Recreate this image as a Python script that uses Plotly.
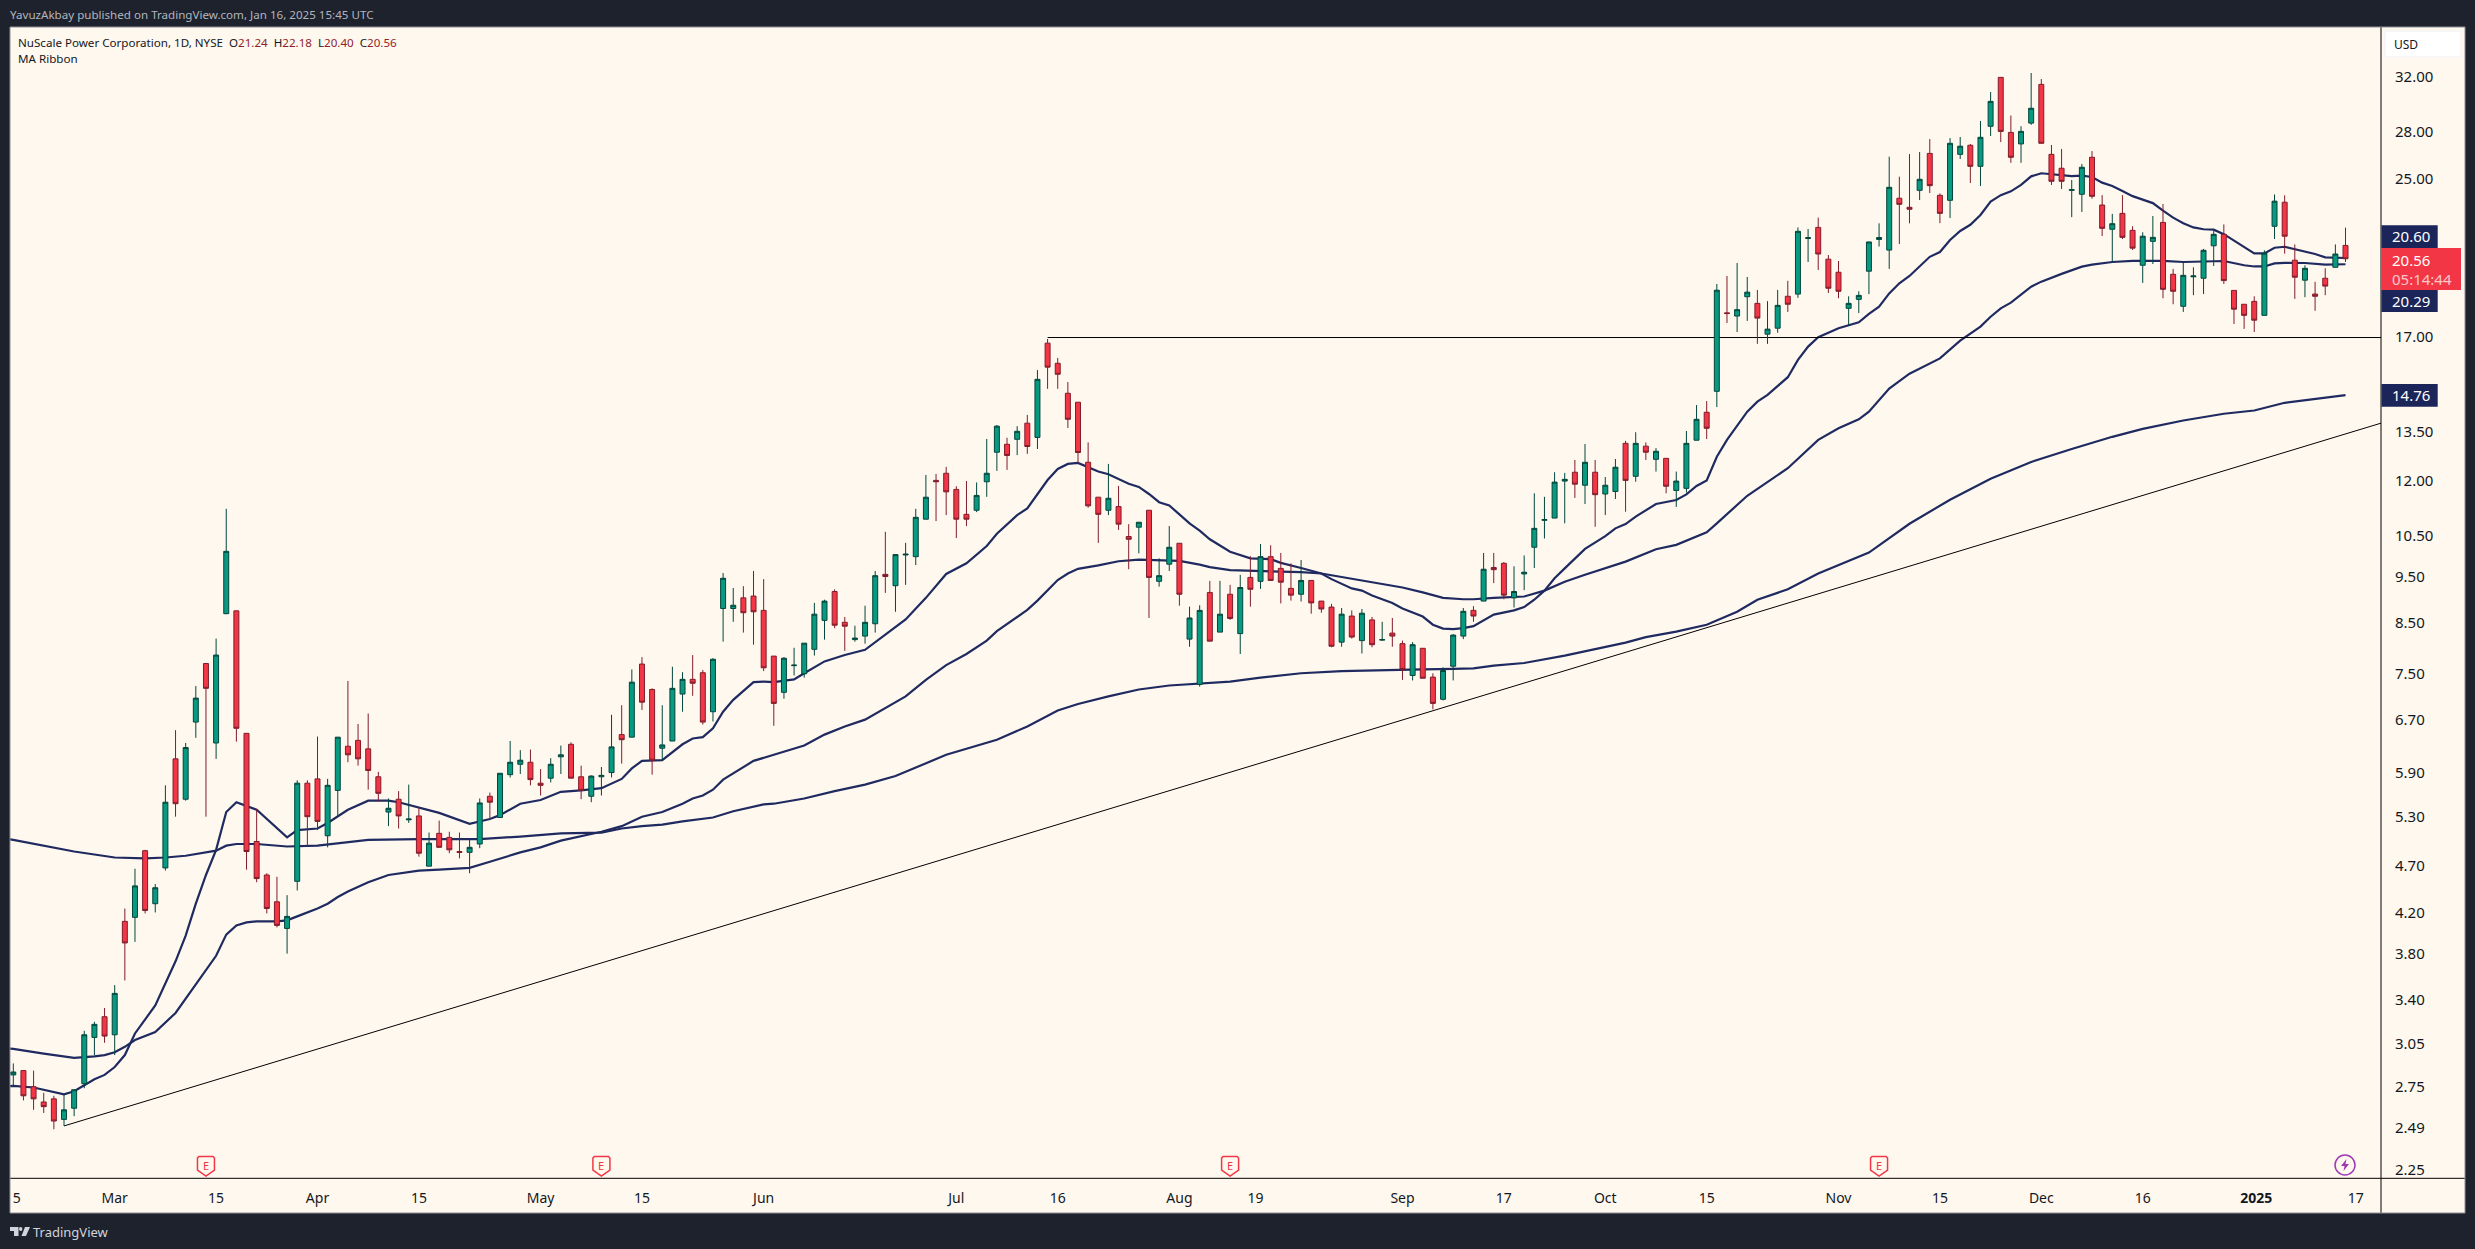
import plotly.graph_objects as go

# ---------- data ----------
opens = [2.83,2.86,2.75,2.65,2.67,2.54,2.61,2.77,3.10,3.26,
 3.12,4.11,4.15,4.88,4.29,4.68,6.10,5.53,6.67,7.69,
 6.34,8.68,8.74,6.49,4.99,4.60,4.31,4.04,4.53,5.75,
 5.81,5.06,5.65,6.29,6.38,6.25,5.84,5.36,5.53,5.26,
 5.31,4.70,5.09,5.04,4.87,4.86,4.96,5.57,5.29,5.87,
 6.02,6.05,5.75,5.82,6.13,6.32,5.84,5.57,5.84,5.90,
 6.47,6.43,7.68,7.22,6.26,6.37,7.14,7.40,7.52,6.84,
 8.79,8.79,9.02,9.06,8.75,7.83,7.17,7.65,7.50,7.96,
 8.54,9.16,8.50,8.15,8.22,8.47,9.55,9.29,10.01,9.97,
 10.92,12.00,12.21,11.74,11.05,11.16,11.96,12.85,13.10,13.26,
 13.79,13.32,16.75,15.95,14.83,14.51,12.54,11.52,11.16,11.26,
 10.47,10.71,11.16,9.39,9.79,10.30,8.16,7.31,9.14,8.30,
 9.10,8.27,9.48,9.39,9.97,9.69,9.23,9.10,9.41,8.95,
 8.82,8.10,8.63,8.13,8.55,8.14,8.28,8.07,7.47,7.98,
 7.44,7.05,7.64,8.22,8.75,8.95,9.71,9.81,9.02,9.56,
 10.20,10.89,10.95,11.98,12.24,11.86,12.24,11.61,11.68,13.13,
 12.12,13.04,12.63,12.66,11.71,11.77,13.23,14.16,14.90,18.03,
 17.89,18.75,18.45,17.12,17.37,18.77,18.87,21.60,22.19,20.54,
 19.90,18.23,18.63,19.95,21.55,21.00,23.82,23.30,24.28,26.56,
 23.99,23.70,26.50,27.09,25.74,28.37,31.95,27.95,27.18,28.59,
 31.41,26.50,25.62,24.28,24.05,26.31,23.43,22.09,22.96,22.03,
 20.24,21.45,22.46,19.80,18.32,19.68,19.61,21.22,21.82,19.04,
 18.41,18.54,17.92,22.25,23.59,20.49,19.52,18.87,19.61,20.14,
 21.24]
highs = [2.91,2.86,2.86,2.71,2.69,2.70,2.73,3.15,3.22,3.33,
 3.52,4.24,4.67,4.89,4.50,5.72,6.54,6.34,7.28,7.70,
 8.17,11.20,8.74,6.49,5.40,4.62,4.58,4.38,5.79,5.79,
 6.44,5.81,6.43,7.37,6.64,6.81,5.91,5.54,5.64,5.73,
 5.42,5.10,5.25,5.11,5.10,5.03,5.54,5.62,5.89,6.37,
 6.23,6.24,5.95,6.11,6.30,6.35,6.00,5.86,5.98,6.79,
 6.95,7.58,7.81,7.24,6.95,7.63,7.53,7.85,7.57,7.79,
 9.58,9.24,9.28,9.63,9.44,7.83,7.81,7.99,8.08,8.91,
 8.98,9.21,8.61,8.43,8.85,9.63,10.59,10.02,10.31,11.20,
 12.16,12.19,12.40,11.83,11.98,11.94,13.27,13.73,13.31,13.69,
 14.07,15.69,16.92,16.16,15.24,14.51,13.16,11.52,12.49,11.84,
 10.79,10.84,11.16,9.93,10.74,10.30,8.83,8.86,9.40,9.40,
 9.31,9.54,9.98,10.28,10.25,10.06,9.81,9.89,9.41,8.95,
 8.89,8.80,8.75,8.78,8.61,8.51,8.59,8.13,8.10,7.98,
 7.51,7.62,8.26,8.80,8.84,10.06,10.06,9.84,9.74,10.00,
 11.63,11.53,12.24,12.22,12.61,13.11,12.61,12.10,12.64,13.21,
 13.49,13.16,12.98,12.66,12.26,13.53,14.41,14.55,19.34,19.72,
 20.35,19.67,19.06,18.55,19.06,19.49,22.19,22.10,22.72,20.75,
 20.45,18.77,19.00,21.42,22.41,26.35,25.10,26.52,26.65,27.50,
 24.10,27.57,27.64,27.18,28.74,30.83,31.95,29.12,28.37,32.29,
 31.82,27.11,26.85,24.90,25.89,26.71,24.00,22.93,24.00,22.25,
 21.93,22.81,23.49,20.06,20.40,20.14,21.06,22.00,22.35,19.04,
 18.41,18.77,20.99,24.04,23.99,21.29,20.24,19.44,20.09,21.29,
 22.18]
lows = [2.76,2.66,2.60,2.58,2.48,2.50,2.56,2.74,2.97,3.06,
 2.97,3.56,3.91,4.19,4.20,4.65,5.30,5.51,6.42,5.30,
 6.10,8.67,6.36,4.66,4.52,4.19,4.05,3.80,4.43,4.94,
 5.13,4.92,5.31,6.05,6.00,5.66,5.50,5.18,5.15,5.22,
 4.81,4.70,4.92,4.85,4.79,4.62,4.91,5.28,5.29,5.83,
 5.88,5.72,5.58,5.76,5.88,5.82,5.53,5.49,5.58,5.83,
 6.03,6.43,6.87,5.87,6.07,6.37,6.84,7.11,6.63,6.68,
 8.11,8.51,8.29,8.05,7.55,6.61,7.06,7.47,7.43,7.84,
 8.15,8.38,7.93,8.11,8.07,8.29,9.13,8.72,9.31,9.77,
 10.92,10.87,11.03,10.43,10.74,11.11,11.53,12.28,12.31,12.76,
 12.80,12.95,14.99,14.99,13.63,12.51,11.23,10.31,11.03,10.64,
 9.67,10.05,8.59,9.27,9.63,8.85,8.01,7.27,8.12,8.30,
 8.55,7.87,8.83,9.22,9.41,8.90,8.96,8.94,8.68,8.70,
 8.00,8.01,8.17,7.88,8.00,8.13,8.01,7.39,7.38,7.42,
 6.88,7.03,7.38,8.16,8.51,8.95,9.35,8.99,8.81,9.19,
 9.70,10.42,10.95,10.81,11.50,11.33,10.72,11.03,11.47,11.12,
 11.96,12.61,12.26,11.63,11.25,11.65,13.23,13.27,14.34,17.59,
 17.21,17.68,16.72,16.72,17.18,18.07,18.70,20.40,20.01,18.92,
 18.68,17.50,18.02,18.87,21.18,20.06,21.31,22.41,23.72,24.12,
 22.42,22.70,26.20,24.72,24.54,27.71,27.30,25.96,25.96,28.47,
 27.22,24.60,24.36,22.75,23.04,23.79,21.73,20.40,21.57,21.01,
 19.39,20.30,18.68,18.41,18.07,18.82,18.87,20.20,19.34,17.55,
 17.34,17.21,17.92,21.57,20.82,18.65,18.73,18.12,18.82,20.14,
 20.40]
closes = [2.85,2.69,2.67,2.62,2.53,2.60,2.73,3.12,3.20,3.11,
 3.45,3.90,4.48,4.22,4.46,5.49,5.47,6.27,7.07,7.24,
 7.85,10.10,6.57,4.87,4.56,4.24,4.07,4.16,5.75,5.30,
 5.24,5.72,6.43,6.16,6.10,5.93,5.61,5.41,5.31,5.27,
 4.85,4.97,4.92,4.89,4.86,4.92,5.48,5.49,5.89,6.05,
 6.08,5.80,5.72,6.02,6.16,5.82,5.65,5.85,5.86,6.28,
 6.39,7.35,7.00,6.08,6.31,7.24,7.40,7.33,6.67,7.77,
 9.46,8.86,8.70,8.72,7.61,6.98,7.79,7.66,8.08,8.67,
 8.95,8.44,8.42,8.18,8.50,9.52,9.50,10.02,10.03,10.97,
 11.52,11.96,11.67,10.92,10.92,11.57,12.21,13.69,12.75,13.52,
 13.03,15.34,15.80,15.53,13.92,12.84,11.28,11.05,11.49,10.79,
 10.40,10.84,9.48,9.52,10.20,9.10,8.59,8.75,8.12,8.67,
 8.58,9.25,9.21,9.97,9.41,9.37,9.08,9.41,8.91,8.78,
 8.02,8.67,8.20,8.69,8.05,8.15,8.22,7.58,8.05,7.42,
 6.98,7.56,8.24,8.73,8.63,9.67,9.66,9.08,9.16,9.60,
 10.68,10.91,11.95,12.03,11.89,12.54,11.59,11.86,12.39,12.00,
 13.13,12.85,12.88,11.83,11.98,13.13,13.92,13.62,19.05,18.00,
 18.17,18.96,17.80,17.33,18.36,18.41,21.98,21.64,20.80,19.14,
 19.00,18.45,18.81,21.42,21.65,24.46,23.47,23.19,24.94,24.56,
 22.96,27.22,27.03,25.74,27.62,30.14,28.02,26.31,28.02,29.64,
 27.22,24.82,24.82,24.32,25.68,23.93,22.14,22.39,21.66,21.10,
 21.72,21.66,19.09,19.00,19.75,19.72,20.99,21.82,19.50,18.19,
 17.92,17.71,20.84,23.65,21.72,19.66,20.09,18.77,19.24,20.80,
 20.56]
bar_index = list(range(len(closes)))

ma_fast_x = [-1,0,2,5,6,8,9,10,11,12,14,16,17,18,19,20,21,22,24,27,28,30,31,32,33,35,37,38,40,42,45,46,47,48,50,52,54,56,58,60,61,62,64,66,67,68,69,70,71,73,74,75,77,78,80,82,84,86,87,88,90,92,94,96,97,99,100,102,103,104,105,106,107,108,110,111,112,113,114,115,116,117,118,120,122,124,125,127,129,130,132,133,134,136,137,139,140,141,142,143,144,146,148,149,150,151,152,153,154,155,157,158,159,160,162,164,165,166,167,168,169,171,172,173,175,176,177,178,180,182,183,184,185,186,187,189,190,191,192,193,194,195,196,197,198,199,200,201,202,203,204,205,206,207,208,209,210,211,212,213,214,215,216,217,218,219,220,221,222,223,224,225,226,227,228,229,230]
ma_fast_y = [2.75,2.755,2.745,2.70,2.72,2.80,2.83,2.885,2.97,3.13,3.35,3.73,3.97,4.29,4.60,4.89,5.36,5.49,5.39,5.04,5.13,5.15,5.22,5.30,5.39,5.51,5.51,5.49,5.42,5.35,5.21,5.24,5.27,5.32,5.47,5.52,5.63,5.65,5.68,5.81,5.96,6.07,6.08,6.32,6.41,6.43,6.57,6.84,7.04,7.35,7.36,7.35,7.40,7.51,7.73,7.85,7.95,8.25,8.40,8.56,9.02,9.56,9.81,10.23,10.54,11.03,11.21,12.01,12.34,12.49,12.52,12.39,12.26,12.18,11.90,11.81,11.61,11.38,11.29,11.05,10.81,10.62,10.40,10.09,9.93,9.91,9.82,9.70,9.57,9.44,9.23,9.18,9.07,8.91,8.79,8.62,8.45,8.37,8.36,8.38,8.42,8.66,8.75,8.82,8.98,9.18,9.46,9.69,9.91,10.16,10.48,10.68,10.79,10.99,11.33,11.44,11.60,11.84,12.00,12.71,13.24,14.18,14.53,14.77,15.42,16.08,16.61,16.99,17.37,17.62,17.98,18.30,18.90,19.37,19.72,20.66,20.90,21.52,22.00,22.33,22.87,23.62,24.00,24.22,24.60,25.12,25.31,25.25,25.19,25.14,25.17,25.08,24.74,24.54,24.24,23.94,23.74,23.54,23.11,22.72,22.42,22.19,22.09,22.07,21.83,21.50,21.15,20.83,20.83,21.12,21.17,21.04,20.94,20.80,20.63,20.61,20.60]

ma_mid_x = [-1,0,3,6,8,9,10,11,12,14,16,18,20,21,22,23,24,26,27,28,30,31,32,33,35,37,39,40,42,45,47,50,52,54,58,60,62,64,66,67,68,69,70,73,75,77,78,80,82,84,87,88,90,92,94,96,97,100,101,103,104,105,107,109,111,113,115,117,118,120,123,125,127,129,131,133,135,137,139,141,143,144,146,149,151,153,155,157,159,162,164,167,168,171,173,175,178,180,182,183,185,187,190,192,194,195,196,197,199,200,202,204,205,207,209,210,212,214,216,218,220,221,222,223,224,226,228,230]
ma_mid_y = [3.02,3.015,2.98,2.95,2.96,2.97,2.99,3.03,3.08,3.14,3.29,3.53,3.78,3.98,4.07,4.10,4.11,4.11,4.12,4.16,4.24,4.29,4.36,4.42,4.52,4.60,4.63,4.65,4.66,4.68,4.75,4.86,4.92,5.00,5.11,5.18,5.30,5.36,5.47,5.54,5.58,5.66,5.80,6.07,6.16,6.25,6.30,6.47,6.60,6.71,6.99,7.10,7.39,7.66,7.87,8.13,8.32,8.76,8.96,9.42,9.57,9.68,9.76,9.86,9.90,9.89,9.87,9.78,9.72,9.65,9.63,9.62,9.60,9.57,9.49,9.42,9.34,9.25,9.14,9.02,8.99,8.99,9.02,9.05,9.18,9.38,9.54,9.69,9.85,10.15,10.26,10.58,10.81,11.56,11.95,12.36,13.24,13.62,13.92,14.18,15.00,15.55,16.14,16.85,17.44,17.86,18.23,18.48,19.21,19.45,19.82,20.17,20.27,20.40,20.46,20.46,20.46,20.40,20.44,20.45,20.24,20.18,20.18,20.33,20.36,20.35,20.27,20.29]

ma_slow_x = [-1,0,6,10,13,15,17,20,21,22,24,27,30,35,40,42,46,50,54,58,60,62,64,66,69,71,74,75,78,81,84,87,92,97,100,103,105,108,111,114,117,120,123,127,131,135,139,142,144,146,149,153,155,159,161,164,167,170,172,175,178,180,183,187,191,195,199,203,207,210,214,218,221,224,227,230]
ma_slow_y = [5.03,5.01,4.87,4.80,4.79,4.80,4.82,4.88,4.94,4.96,4.96,4.93,4.94,5.01,5.02,5.02,5.02,5.05,5.09,5.10,5.15,5.18,5.20,5.24,5.29,5.37,5.46,5.47,5.54,5.64,5.73,5.85,6.16,6.39,6.60,6.86,6.97,7.10,7.22,7.29,7.33,7.36,7.43,7.51,7.55,7.57,7.58,7.59,7.60,7.65,7.70,7.84,7.92,8.09,8.20,8.31,8.45,8.72,8.98,9.21,9.57,9.77,10.07,10.80,11.45,12.05,12.55,12.95,13.34,13.60,13.88,14.11,14.22,14.49,14.63,14.76]

trend_x = [5, 233.5]
trend_y = [2.50, 13.79]
level_x = [102, 233.5]
level_y = [16.98, 16.98]

price_ticks = [32,28,25,17,13.5,12,10.5,9.5,8.5,7.5,6.7,5.9,5.3,4.7,4.2,3.8,3.4,3.05,2.75,2.49,2.25]
time_tick_pos = [0.35,10,20,30,40,52,62,74,93,103,115,122.5,137,147,157,167,180,190,200,210,221.2,231]
time_tick_text = ["5","Mar","15","Apr","15","May","15","Jun","Jul","16","Aug","19","Sep","17","Oct","15","Nov","15","Dec","16","<b>2025</b>","17"]
earnings_bars = [19, 58, 120, 184]

legend_name = "NuScale Power Corporation, 1D, NYSE"
legend_ohlc = [("O","21.24"),("H","22.18"),("L","20.40"),("C","20.56")]
publish_line = "YavuzAkbay published on TradingView.com, Jan 16, 2025 15:45 UTC"

# ---------- styles ----------
FRAME = "#1E222D"; CREAM = "#FFF8EF"; NAVY = "#1C2559"; RED = "#F23645"
GREEN = "#089981"; TXT = "#131722"; FONT = "Noto Sans"
W, H = 2475, 1249
L, R, T, B = 10, 2381, 27, 1178
XR = [-0.325, 233.5]
YR = [0.34301, 1.55763]

def px(x): return (x - L) / (R - L)
def py(y): return (B - y) / (B - T)
def bar_px(i): return 13.3 + 10.14 * i

fig = go.Figure()
line_ma = dict(color="#1F2A60", width=2.2)
fig.add_trace(go.Scatter(x=ma_slow_x, y=ma_slow_y, mode="lines", line=line_ma, name="MA slow", xaxis="x", yaxis="y"))
fig.add_trace(go.Scatter(x=ma_mid_x, y=ma_mid_y, mode="lines", line=line_ma, name="MA mid", xaxis="x", yaxis="y"))
fig.add_trace(go.Scatter(x=ma_fast_x, y=ma_fast_y, mode="lines", line=line_ma, name="MA fast", xaxis="x", yaxis="y"))
fig.add_trace(go.Scatter(x=trend_x, y=trend_y, mode="lines", line=dict(color="#000000", width=1), name="Trend", xaxis="x", yaxis="y"))
fig.add_trace(go.Scatter(x=level_x, y=level_y, mode="lines", line=dict(color="#000000", width=1), name="Level", xaxis="x", yaxis="y"))
fig.add_trace(go.Candlestick(
    x=bar_index, open=opens, high=highs, low=lows, close=closes, xaxis="x2", yaxis="y2", name="NuScale",
    increasing=dict(fillcolor=GREEN, line=dict(color="#00463C", width=1)),
    decreasing=dict(fillcolor=RED, line=dict(color="#801C2B", width=1)),
    whiskerwidth=0,
))

shapes = []
def rect(x0, y0, x1, y1, fill, line=None, lw=0, layer="above"):
    shapes.append(dict(type="rect", xref="paper", yref="paper", x0=px(x0), x1=px(x1), y0=py(y0), y1=py(y1),
                       fillcolor=fill, line=dict(color=line or fill, width=lw), layer=layer))
def seg(x0, y0, x1, y1, color, lw=1):
    shapes.append(dict(type="line", xref="paper", yref="paper", x0=px(x0), x1=px(x1), y0=py(y0), y1=py(y1),
                       line=dict(color=color, width=lw), layer="above"))
def poly(pts, fill, line=None, lw=0):
    d = "M" + " L".join(f"{px(a):.6f},{py(b):.6f}" for a, b in pts) + " Z"
    shapes.append(dict(type="path", xref="paper", yref="paper", path=d, fillcolor=fill,
                       line=dict(color=line or fill, width=lw), layer="above"))

# panels
rect(2381, 27, 2465, 1213, CREAM, layer="below")
rect(10, 1178, 2465, 1213, CREAM, layer="below")
seg(2381, 27, 2381, 1213, "#000000")
seg(10, 1178.3, 2465, 1178.3, "#000000")
seg(10, 27, 2465, 27, "#8E9097"); seg(2465, 27, 2465, 1213, "#8E9097")
seg(10, 1213, 2465, 1213, "#8E9097"); seg(10, 27, 10, 1213, "#8E9097")
# USD chip and price labels
rect(2385, 31, 2461, 57, "#FFFFFF", "#F0F1F4", 1)
rect(2381.5, 225.3, 2437.7, 248, NAVY)
rect(2381.5, 290, 2437.7, 312, NAVY)
rect(2381.5, 384, 2437.7, 406.7, NAVY)
rect(2381.5, 248, 2461, 290, RED)

anns = []
def text(x, y, s, size=15, color=TXT, anchor="left", family=FONT):
    anns.append(dict(x=px(x), y=py(y), xref="paper", yref="paper", text=s, showarrow=False, xanchor=anchor, yanchor="middle",
                     font=dict(size=size, color=color, family=family), xshift=0, yshift=0, borderpad=0, borderwidth=0))

text(2392, 236.5, "20.60", 15, "#FFFFFF")
text(2392, 259.5, "20.56", 15, "#FFFFFF")
text(2392, 278.5, "05:14:44", 15, "#FBC6CC")
text(2392, 300.5, "20.29", 15, "#FFFFFF")
text(2392, 395.5, "14.76", 15, "#FFFFFF")
text(2394, 44, "USD", 12, TXT)
text(10, 14.5, publish_line, 11.6, "#B2B5BE")
vals = "&nbsp;&nbsp;".join(f'{k}<span style="color:#8F1D2C">{v}</span>' for k, v in legend_ohlc)
text(18, 42, legend_name + "&nbsp;&nbsp;" + vals, 11.6, TXT)
text(18, 59, "MA Ribbon", 11.6, TXT)
text(33, 1231.7, "TradingView", 13, "#D1D4DC")

# earnings flags
for i in earnings_bars:
    c = bar_px(i)
    poly([(c-8.5,1158),(c-7,1156.5),(c+7,1156.5),(c+8.5,1158),(c+8.5,1170),(c,1176),(c-8.5,1170)], CREAM, RED, 1.5)
    text(c, 1165, "E", 11, RED, "center")
# flash icon
shapes.append(dict(type="circle", xref="paper", yref="paper", x0=px(2335), x1=px(2355), y0=py(1175), y1=py(1155),
                   fillcolor="rgba(0,0,0,0)", line=dict(color="#9C39B5", width=1.5), layer="above"))
poly([(2346.5,1159),(2341,1166),(2344.5,1166),(2343.5,1171),(2349,1164),(2345.5,1164)], "#9C39B5")
# logo
poly([(10,1227),(18.5,1227),(18.5,1236),(14,1236),(14,1231),(10,1231)], "#D1D4DC")
poly([(25,1227),(30,1227),(26,1236),(21.5,1236)], "#D1D4DC")
shapes.append(dict(type="circle", xref="paper", yref="paper", x0=px(19), x1=px(22.4), y0=py(1231), y1=py(1227),
                   fillcolor="#D1D4DC", line=dict(width=0), layer="above"))

fig.update_layout(
    width=W, height=H, autosize=False, showlegend=False, hovermode=False,
    margin=dict(l=L, r=W-R, t=T, b=H-B, pad=0),
    paper_bgcolor=FRAME, plot_bgcolor=CREAM, boxgap=0.3, boxmode="overlay",
    font=dict(family=FONT, color=TXT),
    xaxis=dict(range=XR, showgrid=False, zeroline=False, showline=False, tickmode="array",
               tickvals=time_tick_pos, ticktext=time_tick_text, ticks="outside", ticklen=7, tickcolor="rgba(0,0,0,0)",
               tickfont=dict(size=14, color=TXT), tickangle=0, rangeslider=dict(visible=False), fixedrange=True),
    yaxis=dict(type="log", range=YR, side="right", showgrid=False, zeroline=False, showline=False, tickmode="array",
               tickvals=price_ticks, ticktext=[f"{v:.2f}" for v in price_ticks], ticks="outside", ticklen=10,
               tickcolor="rgba(0,0,0,0)", tickfont=dict(size=15, color=TXT), fixedrange=True),
    xaxis2=dict(range=XR, overlaying="x", visible=False, rangeslider=dict(visible=False), fixedrange=True),
    yaxis2=dict(type="log", range=YR, overlaying="y", visible=False, fixedrange=True),
    shapes=shapes, annotations=anns,
)

fig.write_html("out.html", include_plotlyjs=True, config=dict(displayModeBar=False, responsive=False),
               post_script="document.body.style.margin='0';document.body.style.overflow='hidden';document.body.style.background='#1E222D';")
